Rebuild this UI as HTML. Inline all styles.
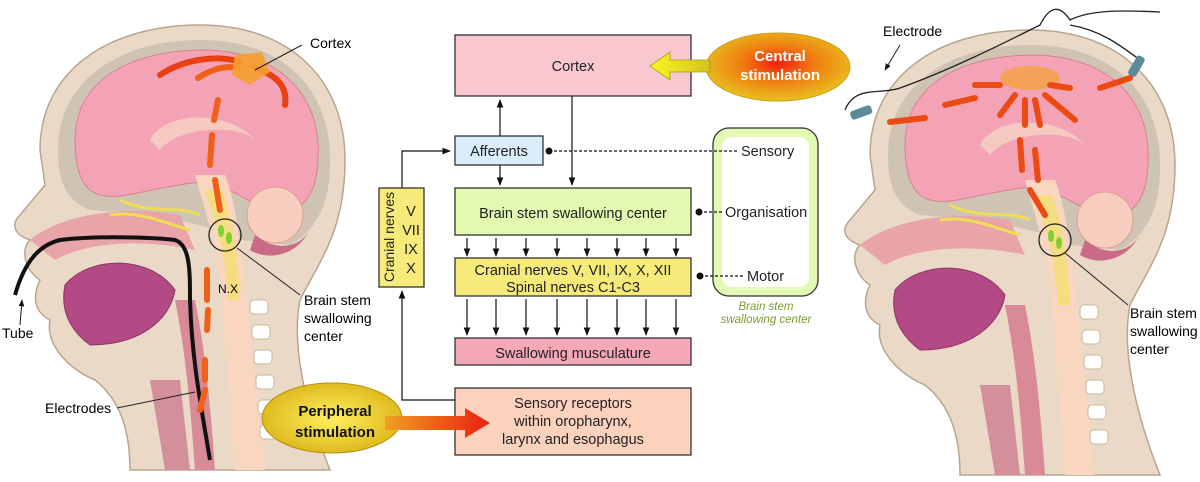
<!DOCTYPE html>
<html><head><meta charset="utf-8"><style>
html,body{margin:0;padding:0;background:#fff}
svg{display:block}
text{font-family:"Liberation Sans","DejaVu Sans",sans-serif}
</style></head><body>
<svg width="1200" height="482" viewBox="0 0 1200 482" xmlns="http://www.w3.org/2000/svg">
<defs>
<radialGradient id="cs" cx="0.5" cy="0.45" r="0.55"><stop offset="0" stop-color="#f22010"/><stop offset="0.45" stop-color="#f07a10"/><stop offset="1" stop-color="#e8c020"/></radialGradient>
<radialGradient id="ps" cx="0.5" cy="0.5" r="0.6"><stop offset="0" stop-color="#fff060"/><stop offset="1" stop-color="#d8b010"/></radialGradient>
<linearGradient id="ya" x1="0" x2="1"><stop offset="0" stop-color="#f8f820"/><stop offset="1" stop-color="#d8c020"/></linearGradient>
<linearGradient id="ra" x1="0" x2="1"><stop offset="0" stop-color="#f0a020"/><stop offset="1" stop-color="#e82010"/></linearGradient>
<marker id="ah" viewBox="0 0 10 10" refX="9" refY="5" markerWidth="7" markerHeight="7" orient="auto"><path d="M0,1 L10,5 L0,9 Z" fill="#111"/></marker>
<g id="head">
 <path d="M40,150 C40,70 110,25 200,25 C290,25 345,80 345,160 C345,230 320,260 300,300 C290,350 310,420 330,470 L130,470 C130,430 120,400 95,380 C70,370 45,345 50,320 C30,310 35,290 40,280 C25,270 20,250 30,240 C15,235 10,225 20,215 L45,185 Z" fill="#e9d9c6" stroke="#b8a590" stroke-width="1.5"/>
 <path d="M58,150 C58,80 120,40 200,40 C285,40 332,90 330,165 C330,210 310,235 290,245 L240,240 C200,220 150,215 90,210 C65,200 58,180 58,150 Z" fill="#cfc4b4"/>
 <path d="M75,140 C75,80 130,50 205,50 C285,52 322,100 318,160 C316,200 300,215 270,210 C240,200 220,175 180,185 C140,190 110,205 90,190 C78,180 75,160 75,140 Z" fill="#f3a3b5" stroke="#d9828f"/>
 <path d="M150,140 C165,110 230,110 255,140 C240,125 180,125 160,150 Z" fill="#f5c8c0"/>
 <circle cx="275" cy="215" r="28" fill="#f7cdbf" stroke="#d9a090"/>
 <path d="M255,235 C280,255 305,245 312,225 C300,255 270,262 250,250 Z" fill="#c96b86"/>
 <path d="M195,175 C205,210 215,240 220,280 L235,470 L265,470 L245,280 C240,240 235,200 225,175 Z" fill="#f8d6c0"/>
 <path d="M205,190 C215,220 225,250 228,300 L240,300 C238,250 232,220 222,190 Z" fill="#f3e070" opacity="0.8"/>
 <path d="M30,240 C60,215 120,205 180,215 L195,250 C150,240 90,240 55,260 Z" fill="#e8a4a8"/>
 <path d="M65,285 C90,255 150,255 175,290 C170,320 140,345 90,345 C70,330 60,310 65,285 Z" fill="#b34a86" stroke="#8e3466"/>
 <path d="M175,300 C185,350 190,400 195,470 L215,470 C210,400 205,350 195,300 Z" fill="#d88a96"/>
 <path d="M150,380 L165,470 L190,470 L180,380 Z" fill="#d4909a"/>
 <g fill="#fff" stroke="#c9b79f" stroke-width="1"><rect x="250" y="300" width="18" height="14" rx="4"/><rect x="252" y="325" width="18" height="14" rx="4"/><rect x="254" y="350" width="18" height="14" rx="4"/><rect x="256" y="375" width="18" height="14" rx="4"/><rect x="258" y="400" width="18" height="14" rx="4"/><rect x="260" y="425" width="18" height="14" rx="4"/></g>
 <path d="M120,200 C150,215 180,205 200,215 M110,215 C140,210 170,225 190,230" stroke="#eedd55" stroke-width="3" fill="none"/>
 <circle cx="225" cy="235" r="16" fill="none" stroke="#222" stroke-width="1.3"/>
 <ellipse cx="221" cy="231" rx="3" ry="6" fill="#7fd030"/><ellipse cx="229" cy="238" rx="3" ry="6" fill="#7fd030"/>
</g>
</defs>

<!-- left head -->
<use href="#head"/>
<path d="M15,295 C25,260 40,245 60,240 C100,235 160,238 175,240 C190,245 190,270 190,300 C192,360 200,400 210,460" stroke="#111" stroke-width="4" fill="none"/>
<g fill="none" stroke-width="6" stroke-linecap="round">
 <path d="M240,62 C220,55 185,58 160,75" stroke="#e84010"/>
 <path d="M238,68 C225,65 210,70 198,78" stroke="#f06018"/>
 <path d="M255,68 C275,75 288,85 285,105" stroke="#e84010"/>
 <path d="M210,165 L212,135 M214,120 L218,100 M220,210 L215,180 M207,300 L207,270 M207,330 L208,310 M205,380 L205,360 M200,410 L205,390" stroke="#f06018"/>
</g>
<path d="M235,55 L262,52 L270,72 L250,85 L232,75 Z" fill="#f5a030" opacity="0.9"/>
<text x="310" y="48" font-size="14">Cortex</text><line x1="302" y1="45" x2="255" y2="70" stroke="#222"/>
<text x="304" y="305" font-size="14">Brain stem</text><text x="304" y="323" font-size="14">swallowing</text><text x="304" y="341" font-size="14">center</text>
<line x1="237" y1="248" x2="300" y2="295" stroke="#222"/>
<text x="218" y="293" font-size="12" font-family="Liberation Serif">N.X</text>
<text x="2" y="338" font-size="14">Tube</text><line x1="20" y1="325" x2="22" y2="300" stroke="#111" marker-end="url(#ah)"/>
<text x="45" y="413" font-size="14">Electrodes</text><line x1="117" y1="408" x2="195" y2="392" stroke="#222"/>

<!-- right head -->
<use href="#head" transform="translate(830,5)"/>
<path d="M845,110 C855,85 880,95 900,88 C950,70 1000,45 1040,25 C1050,5 1060,5 1070,20 C1090,10 1120,10 1160,12 M1070,25 C1100,30 1120,45 1140,60" stroke="#222" stroke-width="1.3" fill="none"/>
<rect x="850" y="108" width="22" height="9" rx="3" fill="#5b8a98" transform="rotate(-20 861 112)"/>
<rect x="1125" y="62" width="22" height="9" rx="3" fill="#5b8a98" transform="rotate(-60 1136 66)"/>
<ellipse cx="1030" cy="78" rx="30" ry="12" fill="#f5a040" opacity="0.8"/>
<g fill="none" stroke-width="6" stroke-linecap="round" stroke="#ec4a12">
 <path d="M1000,85 L975,85 M975,98 L945,105 M925,118 L890,122 M1050,85 L1070,88 M1130,78 L1100,88 M1015,95 L1000,115 M1025,100 L1025,125 M1035,100 L1040,125 M1045,95 L1075,120 M1020,140 L1022,170 M1035,150 L1038,180 M1030,190 L1045,215"/>
</g>
<text x="883" y="36" font-size="14">Electrode</text><line x1="900" y1="45" x2="885" y2="70" stroke="#222" marker-end="url(#ah)"/>
<text x="1130" y="318" font-size="14">Brain stem</text><text x="1130" y="336" font-size="14">swallowing</text><text x="1130" y="354" font-size="14">center</text>
<line x1="1065" y1="253" x2="1128" y2="305" stroke="#222"/>

<!-- center diagram -->
<g stroke="#333" stroke-width="1.3">
<rect x="455" y="35" width="236" height="61" fill="#f9c7cf"/>
<rect x="455" y="136" width="88" height="29" fill="#d9eefa"/>
<rect x="455" y="188" width="236" height="47" fill="#e2fab0"/>
<rect x="455" y="258" width="236" height="38" fill="#f5ea7a"/>
<rect x="455" y="338" width="236" height="27" fill="#f5a8b8"/>
<rect x="455" y="388" width="236" height="67" fill="#fcd2bc"/>
<rect x="379" y="188" width="45" height="99" fill="#f5ea7a"/>
<rect x="713" y="128" width="105" height="168" rx="16" fill="#e3fab5"/>
</g>
<rect x="722" y="137" width="87" height="150" rx="10" fill="#fff"/>
<g stroke="#111" stroke-width="1.2" fill="none">
<line x1="500" y1="136" x2="500" y2="100" marker-end="url(#ah)"/>
<line x1="500" y1="165" x2="500" y2="185" marker-end="url(#ah)"/>
<line x1="572" y1="96" x2="572" y2="185" marker-end="url(#ah)"/>
<polyline points="402,188 402,151 450,151" marker-end="url(#ah)"/>
<polyline points="455,400 402,400 402,291" marker-end="url(#ah)"/>
<line x1="467" y1="238" x2="467" y2="256" marker-end="url(#ah)"/><line x1="496" y1="238" x2="496" y2="256" marker-end="url(#ah)"/><line x1="526" y1="238" x2="526" y2="256" marker-end="url(#ah)"/><line x1="557" y1="238" x2="557" y2="256" marker-end="url(#ah)"/><line x1="587" y1="238" x2="587" y2="256" marker-end="url(#ah)"/><line x1="617" y1="238" x2="617" y2="256" marker-end="url(#ah)"/><line x1="646" y1="238" x2="646" y2="256" marker-end="url(#ah)"/><line x1="676" y1="238" x2="676" y2="256" marker-end="url(#ah)"/>
<line x1="467" y1="299" x2="467" y2="335" marker-end="url(#ah)"/><line x1="496" y1="299" x2="496" y2="335" marker-end="url(#ah)"/><line x1="526" y1="299" x2="526" y2="335" marker-end="url(#ah)"/><line x1="557" y1="299" x2="557" y2="335" marker-end="url(#ah)"/><line x1="587" y1="299" x2="587" y2="335" marker-end="url(#ah)"/><line x1="617" y1="299" x2="617" y2="335" marker-end="url(#ah)"/><line x1="646" y1="299" x2="646" y2="335" marker-end="url(#ah)"/><line x1="676" y1="299" x2="676" y2="335" marker-end="url(#ah)"/>
<g stroke-dasharray="3,2"><line x1="549" y1="151" x2="737" y2="151"/><line x1="699" y1="212" x2="723" y2="212"/><line x1="700" y1="276" x2="745" y2="276"/></g>
</g>
<g fill="#111"><circle cx="549" cy="151" r="3.5"/><circle cx="699" cy="212" r="3.5"/><circle cx="700" cy="276" r="3.5"/></g>
<g font-size="14.5" fill="#222" text-anchor="middle">
<text x="573" y="71">Cortex</text>
<text x="499" y="156">Afferents</text>
<text x="573" y="218">Brain stem swallowing center</text>
<text x="573" y="275">Cranial nerves V, VII, IX, X, XII</text>
<text x="573" y="292">Spinal nerves C1-C3</text>
<text x="573" y="358">Swallowing musculature</text>
<text x="573" y="408">Sensory receptors</text>
<text x="573" y="426">within oropharynx,</text>
<text x="573" y="444">larynx and esophagus</text>
<text x="411" y="216">V</text><text x="411" y="235">VII</text><text x="411" y="254">IX</text><text x="411" y="273">X</text>
</g>
<text font-size="14" fill="#222" transform="rotate(-90 389 237)" x="389" y="242" text-anchor="middle">Cranial nerves</text>
<g font-size="14.5" fill="#222"><text x="741" y="156">Sensory</text><text x="725" y="217">Organisation</text><text x="747" y="281">Motor</text></g>
<g font-size="11.5" fill="#7a9a30" font-style="italic" text-anchor="middle"><text x="766" y="310">Brain stem</text><text x="766" y="323">swallowing center</text></g>

<ellipse cx="778" cy="67" rx="72" ry="34" fill="url(#cs)" stroke="#c8a010"/>
<path d="M710,60 L670,60 L670,52 L650,66 L670,80 L670,72 L710,72 Z" fill="url(#ya)" stroke="#a0a010" stroke-width="0.8"/>
<text x="780" y="61" font-size="15" font-weight="bold" fill="#fff" text-anchor="middle">Central</text>
<text x="780" y="80" font-size="15" font-weight="bold" fill="#fff" text-anchor="middle">stimulation</text>
<ellipse cx="332" cy="418" rx="70" ry="35" fill="url(#ps)" stroke="#b89010"/>
<path d="M385,416 L465,416 L465,408 L490,423 L465,438 L465,430 L385,430 Z" fill="url(#ra)"/>
<text x="335" y="416" font-size="15" font-weight="bold" fill="#111" text-anchor="middle">Peripheral</text>
<text x="335" y="437" font-size="15" font-weight="bold" fill="#111" text-anchor="middle">stimulation</text>
</svg>
</body></html>
